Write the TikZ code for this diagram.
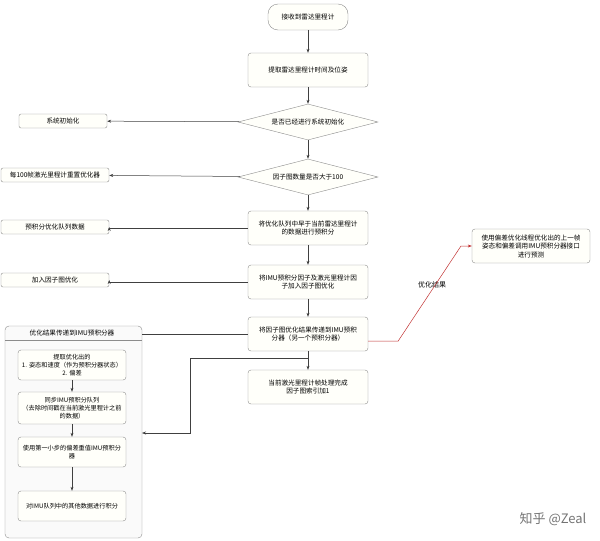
\documentclass[tikz,border=0pt]{standalone}
\usepackage{fontspec}
\setmainfont{Noto Sans CJK SC}
\usetikzlibrary{shapes.geometric,arrows.meta}
\begin{document}
\begin{tikzpicture}[x=1pt,y=-1pt,
 every node/.style={font=\fontsize{6.6}{8.5}\selectfont,align=center,inner sep=1pt},
 box/.style={draw=black!45,fill=black!4!yellow!2,rounded corners=3pt,minimum width=#1,minimum height=34pt},
 box/.default=120pt,
 lbox/.style={draw=black!45,fill=black!4!yellow!2,rounded corners=2pt,minimum width=#1,minimum height=14pt},
 dia/.style={draw=black!45,fill=black!4!yellow!2,diamond,aspect=3.9,inner sep=0pt,minimum width=140pt,minimum height=36pt},
 arr/.style={-{Stealth[length=4pt,width=3pt]},black!75,line width=0.5pt}]
\useasboundingbox (0,0) rectangle (600,541);
\node[box=80pt,minimum height=26pt,rounded corners=10pt] (s) at (308,17) {接收到雷达里程计};
\node[box] (b1) at (308,70) {提取雷达里程计时间及位姿};
\node[dia] (d1) at (308,122) {是否已经进行系统初始化};
\node[dia] (d2) at (308,177) {因子图数量是否大于100};
\node[box] (b3) at (308,228) {将优化队列中早于当前雷达里程计\\的数据进行预积分};
\node[box] (b4) at (308,282) {将IMU预积分因子及激光里程计因\\子加入因子图优化};
\node[box] (b5) at (308,334) {将因子图优化结果传递到IMU预积\\分器（另一个预积分器）};
\node[box] (b6) at (308,387) {当前激光里程计帧处理完成\\因子图索引加1};
\node[box=118pt] (r) at (531,246) {使用偏差优化线程优化出的上一帧\\姿态和偏差调用IMU预积分器接口\\进行预测};
\node[lbox=88pt] (l1) at (63,121) {系统初始化};
\node[lbox=108pt] (l2) at (55,175) {每100帧激光里程计重置优化器};
\node[lbox=108pt] (l3) at (55,227) {预积分优化队列数据};
\node[lbox=108pt] (l4) at (55,280) {加入因子图优化};
\draw[black!45,fill=black!2,rounded corners=4pt] (5,326) rectangle (142,538);
\draw[black!45] (5,340) -- (142,340);
\node (ct) at (72,333) {优化结果传递到IMU预积分器};
\coordinate (cE) at (142,433);
\coordinate (cT) at (142,334);
\node[box=108pt,minimum height=30pt,font=\fontsize{6.2}{8}\selectfont] (c1) at (72,365) {提取优化出的\\1. 姿态和速度（作为预积分器状态）\\2. 偏差};
\node[box=108pt,minimum height=32pt,font=\fontsize{6.2}{8}\selectfont] (c2) at (72,408) {同步IMU预积分队列\\（去除时间戳在当前激光里程计之前\\的数据）};
\node[box=108pt,minimum height=30pt,font=\fontsize{6.2}{8}\selectfont] (c3) at (72,452) {使用第一小步的偏差重值IMU预积分\\器};
\node[box=108pt,minimum height=30pt,font=\fontsize{6.2}{8}\selectfont] (c4) at (72,506) {对IMU队列中的其他数据进行积分};
\node (lab) at (432,285) {\fontsize{7}{8}\selectfont 优化结果};
\node[text=black!55] (wm) at (553,519) {\fontsize{13}{14}\selectfont 知乎 @Zeal};
\draw[arr] (s) -- (b1);
\draw[arr] (b1) -- (d1);
\draw[arr] (d1) -- (d2);
\draw[arr] (d2) -- (b3);
\draw[arr] (b3) -- (b4);
\draw[arr] (b4) -- (b5);
\draw[arr] (b5) -- (b6);
\draw[arr] (d1) -- (l1);
\draw[arr] (d2) -- (l2);
\draw[arr] (b3.west) -- (l3.east |- b3.west) -- (l3.east);
\draw[arr] (b4.west) -- (l4.east |- b4.west) -- (l4.east);
\draw[black!75,line width=0.5pt] (b5.west) -- (cT);
\draw[arr] (308,358) -- (190,358) -- (190,433) -- (cE);
\draw[arr,red!70!black!80] (b5.east) ++(0,7) -- ++(30,0) -- (461,246) -- (r.west);
\draw[arr] (c1) -- (c2);
\draw[arr] (c2) -- (c3);
\draw[arr] (c3) -- (c4);
\end{tikzpicture}
\end{document}
